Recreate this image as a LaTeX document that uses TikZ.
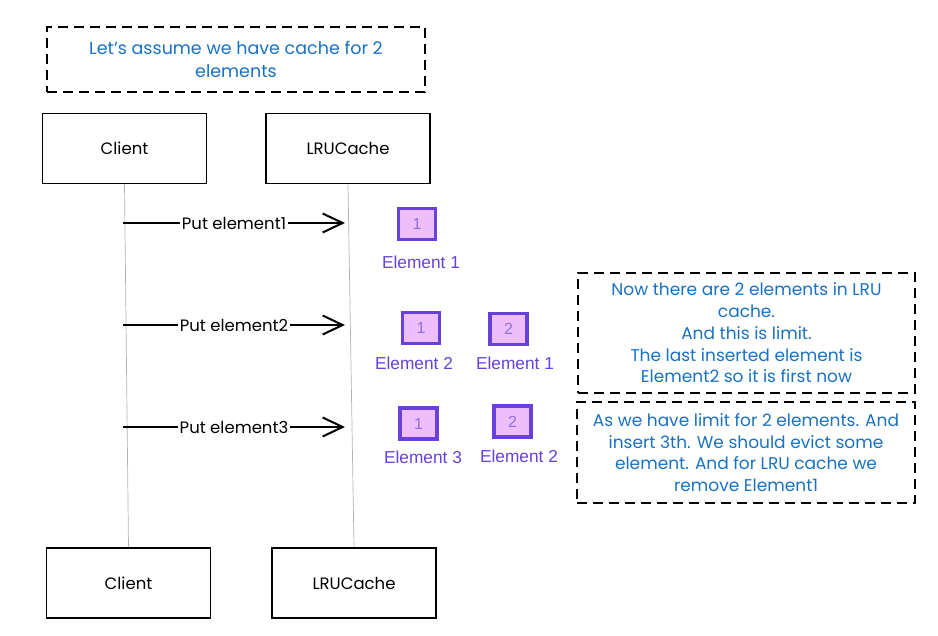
\documentclass[tikz,border=0pt]{standalone}
\usepackage{fontspec}
\setmainfont{Poppins}
\newfontfamily\elemfont{Liberation Sans}
\usepackage{tikz}
\usetikzlibrary{arrows.meta}
\definecolor{noteblue}{HTML}{1971C2}
\definecolor{elemviolet}{HTML}{6741D9}
\definecolor{elemfill}{HTML}{EEBEFA}
\begin{document}
\begin{tikzpicture}[x=1pt,y=-1pt,
    actor/.style={draw=black, line width=1.8pt, minimum width=164pt, minimum height=70pt, font=\fontsize{16.5}{18}\selectfont},
    note/.style={draw=black, line width=2.2pt, dash pattern=on 10pt off 6pt, text=noteblue, align=center, inner sep=0pt, font=\fontsize{17}{21.7}\selectfont},
    elem/.style={draw=elemviolet, fill=elemfill, line width=3.2pt, minimum width=37pt, minimum height=31pt, inner sep=0pt, text=elemviolet!75, font=\elemfont\fontsize{16}{18}\selectfont},
    elemname/.style={text=elemviolet, font=\elemfont\fontsize{17.3}{19}\selectfont},
    msg/.style={line width=2pt, -{Straight Barb[length=20pt, width=19pt, line width=2pt]}},
    lifeline/.style={gray!60, line width=0.7pt}]
    \useasboundingbox (0,0) rectangle (938,636);
    \node[note, minimum width=378pt, minimum height=65pt, font=\fontsize{17.5}{23}\selectfont] (assume) at (236,59.5) {Let's assume we have cache for 2\\elements};
    \node[actor] (client) at (124.5,148.5) {Client};
    \node[actor] (cache) at (348,148.5) {LRUCache};
    \node[actor] (clientend) at (128.5,583) {Client};
    \node[actor] (cacheend) at (354,583) {LRUCache};
    \draw[lifeline] (client.south) -- (clientend.north);
    \draw[lifeline] (cache.south) -- (cacheend.north);
    \foreach \i/\y in {1/223,2/325,3/427} {
        \coordinate (from\i) at (123,\y);
        \coordinate (to\i) at (345,\y);
        \draw[msg] (from\i) -- node[fill=white, inner sep=2pt, font=\fontsize{16.5}{18}\selectfont] {Put element\i} (to\i);
    }
    \node[elem] (sqa) at (417,224) {1};
    \node[elemname] (namea) at (421,262) {Element 1};
    \node[elem] (sqb) at (421,328) {1};
    \node[elem] (sqc) at (508.5,329) {2};
    \node[elemname] (nameb) at (414,363) {Element 2};
    \node[elemname] (namec) at (515,363) {Element 1};
    \node[elem] (sqd) at (418.5,423.5) {1};
    \node[elem] (sqe) at (512.5,421.5) {2};
    \node[elemname] (named) at (423,457) {Element 3};
    \node[elemname] (namee) at (519,456) {Element 2};
    \node[note, minimum width=337pt, minimum height=120pt] (limit) at (746.5,333) {Now there are 2 elements in LRU\\cache.\\And this is limit.\\The last inserted element is\\Element2 so it is first now};
    \node[note, minimum width=338pt, minimum height=101pt] (evict) at (746,452.5) {As we have limit for 2 elements. And\\insert 3th. We should evict some\\element. And for LRU cache we\\remove Element1};
\end{tikzpicture}
\end{document}
